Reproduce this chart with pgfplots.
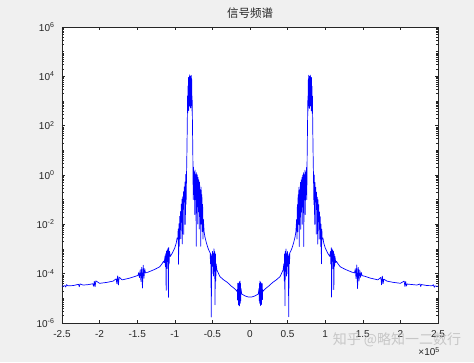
\documentclass[border=0pt]{standalone}
\usepackage{fontspec}
\setmainfont{Liberation Sans}
\newfontfamily\cjk{Noto Sans CJK SC}
\usepackage{pgfplots}
\pgfplotsset{compat=1.18}
\definecolor{figbg}{RGB}{240,240,240}
\definecolor{axgray}{RGB}{38,38,38}
\definecolor{wmark}{RGB}{185,185,185}
\begin{document}
\begin{tikzpicture}[x=1pt,y=1pt]
\fill[figbg] (-62,-39) rectangle (412,323);
\begin{axis}[at={(0,0)}, anchor=south west, scale only axis,
  width=376pt, height=296pt,
  xmin=-2.5, xmax=2.5, ymode=log, ymin=1e-6, ymax=1e6,
  axis background/.style={fill=white},
  axis line style={axgray, line width=0.5pt},
  tick style={axgray, line width=0.5pt},
  major tick length=3.5pt, minor tick length=2pt,
  xtick={-2.5,-2,-1.5,-1,-0.5,0,0.5,1,1.5,2,2.5},
  xticklabels={-2.5,-2,-1.5,-1,-0.5,0,0.5,1,1.5,2,2.5},
  ytick={1e-6,1e-4,1e-2,1,1e2,1e4,1e6},
  yticklabels={10\textsuperscript{-6},10\textsuperscript{-4},10\textsuperscript{-2},10\textsuperscript{0},10\textsuperscript{2},10\textsuperscript{4},10\textsuperscript{6}},
  minor ytick={2e-6,3e-6,4e-6,5e-6,6e-6,7e-6,8e-6,9e-6,1e-5,2e-5,3e-5,4e-5,5e-5,6e-5,7e-5,8e-5,9e-5,
    2e-4,3e-4,4e-4,5e-4,6e-4,7e-4,8e-4,9e-4,1e-3,2e-3,3e-3,4e-3,5e-3,6e-3,7e-3,8e-3,9e-3,
    2e-2,3e-2,4e-2,5e-2,6e-2,7e-2,8e-2,9e-2,1e-1,2e-1,3e-1,4e-1,5e-1,6e-1,7e-1,8e-1,9e-1,
    2,3,4,5,6,7,8,9,10,20,30,40,50,60,70,80,90,
    200,300,400,500,600,700,800,900,1000,2000,3000,4000,5000,6000,7000,8000,9000,
    2e4,3e4,4e4,5e4,6e4,7e4,8e4,9e4,1e5,2e5,3e5,4e5,5e5,6e5,7e5,8e5,9e5},
  tick label style={font=\fontsize{10}{12}\selectfont, text=axgray},
  xticklabel style={yshift=-4pt},
  yticklabel style={xshift=-4pt},
  title={信号频谱},
  title style={font=\cjk\fontsize{11.5}{13}\selectfont, text=axgray, at={(0.5,1)}, anchor=south, yshift=-1pt},
]
\addplot[blue, line width=0.7pt, line join=round] table {
x y
-2.50 3.09e-5
-2.46 3.24e-5
-2.45 2.88e-5
-2.44 3.6e-5
-2.42 3.2e-5
-2.35 3.3e-5
-2.28 3.7e-5
-2.27 2.95e-5
-2.26 3.85e-5
-2.22 3.45e-5
-2.15 3.6e-5
-2.09 3.9e-5
-2.08 3.1e-5
-2.07 4.9e-5
-2.06 2.95e-5
-2.05 5.1e-5
-2.00 4.05e-5
-1.90 4.45e-5
-1.82 5.0e-5
-1.78 6.2e-5
-1.77 3.9e-5
-1.76 8.1e-5
-1.75 3.5e-5
-1.74 7.2e-5
-1.70 5.6e-5
-1.60 6.6e-5
-1.52 7.9e-5
-1.49 8.5e-5
-1.48 1.1e-4
-1.47 6.9e-5
-1.46 1.45e-4
-1.45 4.8e-5
-1.44 1.8e-4
-1.43 2.6e-5
-1.42 2.2e-4
-1.41 6.5e-5
-1.40 1.6e-4
-1.39 1.07e-4
-1.35 1.17e-4
-1.30 1.35e-4
-1.25 1.58e-4
-1.20 1.91e-4
-1.17 2.5e-4
-1.15 3.2e-4
-1.14 2.8e-4
-1.13 5.2e-4
-1.125 1.9e-4
-1.12 6.5e-4
-1.115 2.1e-5
-1.11 8.1e-4
-1.105 1.6e-4
-1.10 9.1e-4
-1.095 3.1e-4
-1.09 1.05e-3
-1.085 1.1e-5
-1.08 1.15e-3
-1.075 2.6e-4
-1.07 8.0e-4
-1.06 5.0e-4
-1.03 7.1e-4
-1.00 1.12e-3
-0.98 1.78e-3
-0.97 2.8e-3
-0.96 2.5e-3
-0.955 6.5e-3
-0.95 2.4e-4
-0.945 1.05e-2
-0.94 1.3e-3
-0.935 2.1e-2
-0.93 6.0e-3
-0.925 3.3e-2
-0.92 2.6e-3
-0.915 6.5e-2
-0.91 1.2e-2
-0.905 1.05e-1
-0.90 1.6e-3
-0.895 1.3e-1
-0.89 4.1e-2
-0.885 2.1e-1
-0.88 3.9e-3
-0.875 3.3e-1
-0.87 8.1e-2
-0.865 5.2e-1
-0.86 1.0e-2
-0.855 1.05
-0.85 6.5e-2
-0.845 6.5e-1
-0.84 5.2
-0.835 65
-0.83 1620
-0.827 330
-0.824 4100
-0.821 980
-0.818 9100
-0.815 410
-0.812 7800
-0.809 1280
-0.806 11500
-0.803 620
-0.800 5100
-0.797 2000
-0.794 10200
-0.791 520
-0.788 6400
-0.785 990
-0.782 11000
-0.779 640
-0.776 8000
-0.773 400
-0.770 1600
-0.765 102
-0.760 6.5
-0.755 0.102
-0.750 2.05
-0.745 0.16
-0.740 1.3
-0.735 0.025
-0.730 1.6
-0.725 0.102
-0.720 1.02
-0.715 1.3e-3
-0.710 1.25
-0.705 0.051
-0.700 1.02
-0.695 0.0102
-0.690 0.8
-0.685 0.032
-0.680 0.64
-0.675 6.4e-3
-0.670 0.51
-0.665 0.0205
-0.660 0.255
-0.655 1.3e-3
-0.650 0.32
-0.645 0.0102
-0.640 0.16
-0.635 5.1e-3
-0.630 0.064
-0.625 2.55e-3
-0.620 0.016
-0.61 5.0e-3
-0.60 3.16e-3
-0.58 1.78e-3
-0.56 1.12e-3
-0.54 7.9e-4
-0.530 7.0e-4
-0.525 2.5e-4
-0.520 6.4e-4
-0.515 1.75e-6
-0.510 5.1e-4
-0.505 1.02e-4
-0.500 8.0e-4
-0.495 2.0e-4
-0.490 6.4e-4
-0.485 8.0e-5
-0.480 1.02e-3
-0.475 1.25e-4
-0.470 7.9e-4
-0.465 5.5e-6
-0.460 6.3e-4
-0.455 5.0e-5
-0.450 2.5e-4
-0.44 1.41e-4
-0.40 7.6e-5
-0.35 5.6e-5
-0.30 4.4e-5
-0.25 3.15e-5
-0.20 2.4e-5
-0.172 1.9e-5
-0.168 2.3e-5
-0.165 8.5e-6
-0.162 4.1e-5
-0.159 1.3e-5
-0.156 3.2e-5
-0.153 5.4e-6
-0.150 4.0e-5
-0.147 1.6e-5
-0.144 4.6e-5
-0.141 4.9e-6
-0.138 3.5e-5
-0.135 1.25e-5
-0.132 5.0e-5
-0.129 6.3e-6
-0.126 4.0e-5
-0.123 7.9e-6
-0.120 2.5e-5
-0.11 1.51e-5
-0.09 1.38e-5
-0.06 1.23e-5
-0.03 1.15e-5
0.000 1.12e-5
0.03 1.15e-5
0.06 1.23e-5
0.09 1.38e-5
0.11 1.51e-5
0.120 2.51e-5
0.123 7.94e-6
0.126 3.98e-5
0.129 6.31e-6
0.132 5.01e-5
0.135 1.26e-5
0.138 3.55e-5
0.141 5.01e-6
0.144 4.47e-5
0.147 1.58e-5
0.150 3.98e-5
0.153 5.62e-6
0.156 3.16e-5
0.159 1.26e-5
0.162 3.98e-5
0.165 8.91e-6
0.168 2.24e-5
0.172 1.91e-5
0.20 2.4e-5
0.25 3.16e-5
0.30 4.37e-5
0.35 5.62e-5
0.40 7.59e-5
0.44 1.41e-4
0.450 2.51e-4
0.455 5.01e-5
0.460 6.31e-4
0.465 5.01e-6
0.470 7.94e-4
0.475 1.26e-4
0.480 1e-3
0.485 7.94e-5
0.490 6.31e-4
0.495 2e-4
0.500 7.94e-4
0.505 1e-4
0.510 5.01e-4
0.515 1.78e-6
0.520 6.31e-4
0.525 2.51e-4
0.530 7.08e-4
0.54 7.94e-4
0.56 1.12e-3
0.58 1.78e-3
0.60 3.16e-3
0.61 5.01e-3
0.620 1.58e-2
0.625 2.51e-3
0.630 6.31e-2
0.635 5.01e-3
0.640 0.158
0.645 0.01
0.650 0.316
0.655 1.26e-3
0.660 0.251
0.665 0.02
0.670 0.501
0.675 6.31e-3
0.680 0.631
0.685 0.0316
0.690 0.794
0.695 0.01
0.700 1
0.705 0.0501
0.710 1.26
0.715 1.26e-3
0.720 1
0.725 0.1
0.730 1.58
0.735 0.0251
0.740 1.26
0.745 0.158
0.750 2
0.755 0.1
0.760 6.31
0.765 100
0.770 1585
0.773 398
0.776 7943
0.779 631
0.782 11220
0.785 1000
0.788 6310
0.791 501
0.794 10000
0.797 1995
0.800 5012
0.803 631
0.806 11220
0.809 1259
0.812 7943
0.815 398
0.818 8913
0.821 1000
0.824 3981
0.827 316
0.830 1585
0.835 63.1
0.840 5.01
0.845 0.631
0.850 0.0631
0.855 1
0.860 0.01
0.865 0.501
0.870 0.0794
0.875 0.316
0.880 3.98e-3
0.885 0.2
0.890 0.0398
0.895 0.126
0.900 1.58e-3
0.905 0.1
0.910 0.0126
0.915 0.0631
0.920 2.51e-3
0.925 0.0316
0.930 6.31e-3
0.935 0.02
0.940 1.26e-3
0.945 0.01
0.950 2.51e-4
0.955 6.31e-3
0.960 2.51e-3
0.970 2.82e-3
0.98 1.78e-3
1.00 1.12e-3
1.03 7.08e-4
1.06 5.01e-4
1.070 7.94e-4
1.075 2.51e-4
1.080 1.12e-3
1.085 1.12e-5
1.090 1e-3
1.095 3.16e-4
1.100 8.91e-4
1.105 1.58e-4
1.110 7.94e-4
1.115 2.24e-5
1.120 6.31e-4
1.125 2e-4
1.130 5.01e-4
1.140 2.82e-4
1.15 3.16e-4
1.17 2.51e-4
1.20 1.91e-4
1.25 1.58e-4
1.30 1.35e-4
1.35 1.17e-4
1.39 1.07e-4
1.400 1.58e-4
1.410 6.31e-5
1.420 2.24e-4
1.430 2.51e-5
1.440 1.78e-4
1.450 5.01e-5
1.460 1.41e-4
1.470 7.08e-5
1.480 1.12e-4
1.490 8.32e-5
1.52 7.94e-5
1.60 6.61e-5
1.70 5.62e-5
1.740 7.08e-5
1.750 3.55e-5
1.760 7.94e-5
1.770 3.98e-5
1.780 6.03e-5
1.82 5.01e-5
1.90 4.47e-5
2.00 4.07e-5
2.050 5.01e-5
2.060 3.02e-5
2.070 4.79e-5
2.080 3.16e-5
2.09 3.8e-5
2.15 3.63e-5
2.22 3.47e-5
2.26 3.8e-5
2.27 3.02e-5
2.28 3.63e-5
2.35 3.31e-5
2.42 3.24e-5
2.44 3.55e-5
2.45 2.82e-5
2.46 3.16e-5
2.50 3.09e-5
};
\end{axis}
\node[anchor=north east, font=\fontsize{10}{12}\selectfont, text=axgray, inner sep=0pt] at (378,-24) {×10\textsuperscript{5}};
\node[font=\cjk\fontsize{14}{16}\selectfont, text=wmark, opacity=0.75] at (335,-17) {知乎 @略知一二数行};
\pgfresetboundingbox
\path (-62,-39) rectangle (412,323);
\end{tikzpicture}
\end{document}
